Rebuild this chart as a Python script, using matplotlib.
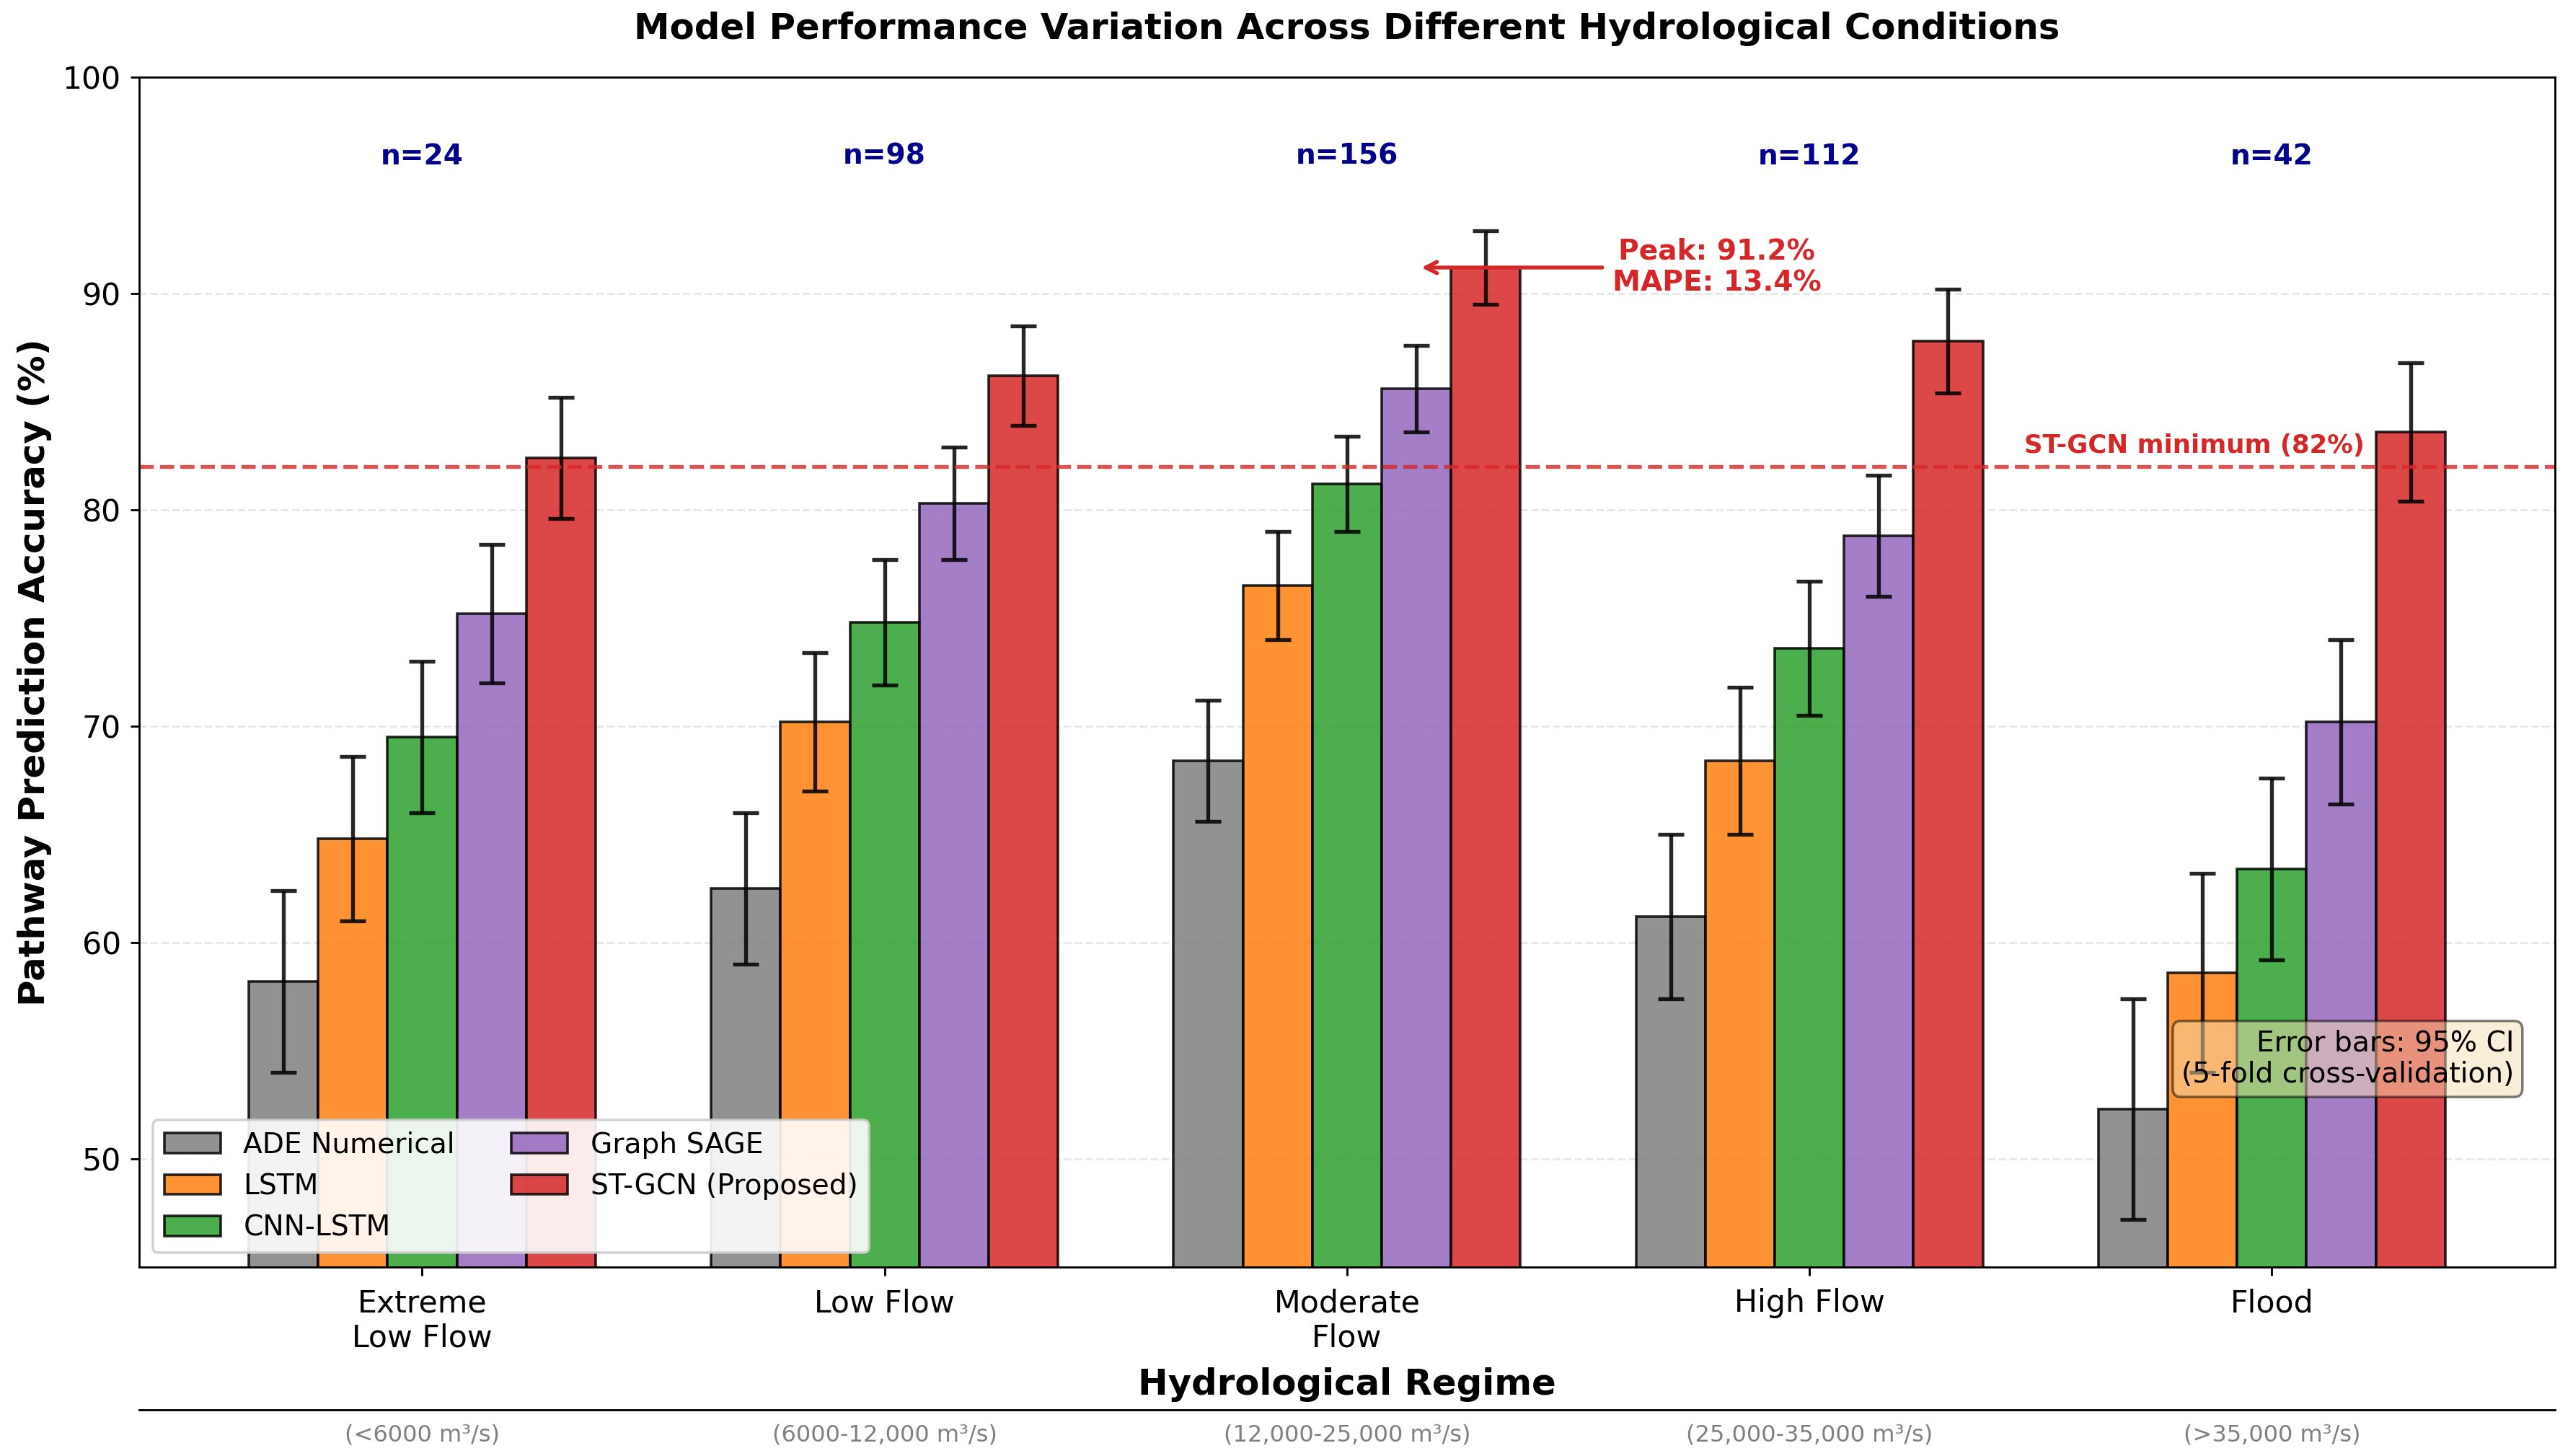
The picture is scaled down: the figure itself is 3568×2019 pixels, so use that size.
import matplotlib
matplotlib.use("Agg")
import matplotlib.pyplot as plt
import numpy as np

regimes = ['Extreme\nLow Flow', 'Low Flow', 'Moderate\nFlow', 'High Flow', 'Flood']
flow_ranges = ['(<6000 m³/s)', '(6000-12,000 m³/s)', '(12,000-25,000 m³/s)',
               '(25,000-35,000 m³/s)', '(>35,000 m³/s)']
sample_sizes = [24, 98, 156, 112, 42]
models = ['ADE Numerical', 'LSTM', 'CNN-LSTM', 'Graph SAGE', 'ST-GCN (Proposed)']

ade = [58.2, 62.5, 68.4, 61.2, 52.3]
lstm = [64.8, 70.2, 76.5, 68.4, 58.6]
cnn_lstm = [69.5, 74.8, 81.2, 73.6, 63.4]
graphsage = [75.2, 80.3, 85.6, 78.8, 70.2]
stgcn = [82.4, 86.2, 91.2, 87.8, 83.6]

ade_err = [4.2, 3.5, 2.8, 3.8, 5.1]
lstm_err = [3.8, 3.2, 2.5, 3.4, 4.6]
cnn_lstm_err = [3.5, 2.9, 2.2, 3.1, 4.2]
graphsage_err = [3.2, 2.6, 2.0, 2.8, 3.8]
stgcn_err = [2.8, 2.3, 1.7, 2.4, 3.2]

threshold = 82
peak_text = 'Peak: 91.2%\nMAPE: 13.4%'

colors = ['#7f7f7f', '#ff7f0e', '#2ca02c', '#9467bd', '#d62728']

values = [ade, lstm, cnn_lstm, graphsage, stgcn]
errors = [ade_err, lstm_err, cnn_lstm_err, graphsage_err, stgcn_err]

fig = plt.figure(figsize=(3568 / 256, 2019 / 256), dpi=256)
ax = fig.add_axes([0.054, 0.1298, 0.939, 0.8172])

x = np.arange(len(regimes))
width = 0.15
for i, (name, vals, errs, c) in enumerate(zip(models, values, errors, colors)):
    ax.bar(x + (i - 2) * width, vals, width, yerr=errs, label=name, color=c,
           alpha=0.85, edgecolor='black', linewidth=1.0,
           error_kw=dict(ecolor='black', capsize=5, elinewidth=1.5, capthick=1.5, alpha=0.85))

ax.set_ylim(45, 100)
ax.set_xticks(x)
ax.set_xticklabels(regimes, fontsize=12)
ax.tick_params(axis='x', pad=4.7)
ax.tick_params(axis='y', labelsize=12)
ax.set_ylabel('Pathway Prediction Accuracy (%)', fontsize=14, fontweight='bold')
ax.set_xlabel('Hydrological Regime', fontsize=14, fontweight='bold', labelpad=5.5)
ax.set_title('Model Performance Variation Across Different Hydrological Conditions',
             fontsize=14, fontweight='bold', pad=15)
ax.grid(axis='y', linestyle='--', alpha=0.3)
ax.set_axisbelow(True)

for xi, n in zip(x, sample_sizes):
    ax.text(xi, 96.35, f'n={n}', ha='center', va='center', fontsize=11,
            fontweight='bold', color='darkblue')

ax.axhline(threshold, color='#d62728', linestyle='--', linewidth=1.5, alpha=0.8)
ax.text(4.2, threshold + 0.4, f'ST-GCN minimum ({threshold}%)', ha='right', va='bottom',
        fontsize=10, fontweight='bold', color='#d62728')

ax.annotate(peak_text, xy=(2.15, 91.2), xytext=(2.8, 91.2),
            ha='center', va='center', fontsize=11, fontweight='bold', color='#d62728',
            arrowprops=dict(arrowstyle='->', color='#d62728', lw=1.5))

ax.text(0.983, 0.15, 'Error bars: 95% CI\n(5-fold cross-validation)', transform=ax.transAxes,
        ha='right', va='bottom', fontsize=11, multialignment='right',
        bbox=dict(boxstyle='round', facecolor='wheat', alpha=0.5))

ax.legend(loc='lower left', ncol=2, fontsize=11, framealpha=0.9)

sec = ax.secondary_xaxis(-0.120)
sec.set_xticks(x)
sec.set_xticklabels(flow_ranges, fontsize=9, color='gray')
sec.tick_params(axis='x', length=0, pad=5.5)

fig.savefig('out.png', dpi=256)
